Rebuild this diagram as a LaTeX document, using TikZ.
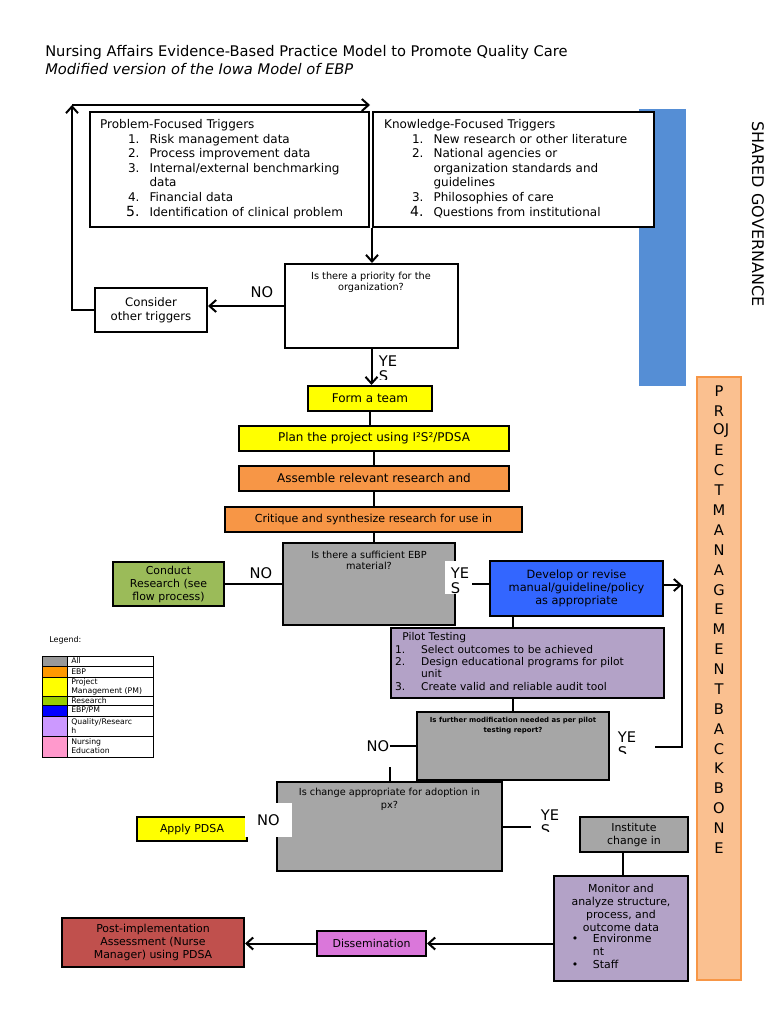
\documentclass[tikz,border=0pt]{standalone}
\usepackage{fontspec}
\setmainfont{DejaVu Sans}
\usetikzlibrary{arrows.meta}
\definecolor{boxgray}{HTML}{A6A6A6}
\definecolor{pmyellow}{HTML}{FFFF00}
\definecolor{ebporange}{HTML}{F79646}
\definecolor{resgreen}{HTML}{9BBB59}
\definecolor{devblue}{HTML}{3366FF}
\definecolor{qualpurple}{HTML}{B3A2C7}
\definecolor{dissmagenta}{HTML}{DA77DA}
\definecolor{postred}{HTML}{C0504D}
\definecolor{govblue}{HTML}{558ED5}
\definecolor{pmpeach}{HTML}{FAC090}
\definecolor{leggray}{HTML}{999999}
\definecolor{legorange}{HTML}{FF9900}
\definecolor{leggreen}{HTML}{99CC00}
\definecolor{legblue}{HTML}{0000FF}
\definecolor{leglilac}{HTML}{CC99FF}
\definecolor{legpink}{HTML}{FF99CC}
\tikzset{
	every box/.style={
		draw,
		line width=1.5pt,
		inner sep=1pt,
		align=center,
		font=\fontsize{8.2}{9.75}\selectfont
	},
	box size/.style 2 args={
		minimum width=#1*0.75pt,
		minimum height=#2*0.75pt
	},
	question/.style={
		align=center,
		inner sep=0pt,
		font=\fontsize{7.3}{8.3}\selectfont
	},
	answer/.style={
		align=left,
		inner sep=0pt,
		font=\fontsize{11}{11.25}\selectfont
	},
	connector/.style={
		line width=1.5pt
	},
	legend cell/.style={
		draw,
		line width=0.5pt
	},
	backbone letter/.style={
		inner sep=0pt,
		font=\fontsize{11}{12}\selectfont
	},
}

\begin{document}
\begin{tikzpicture}[x=0.75pt, y=-0.75pt, >={Straight Barb[length=5pt,width=9pt]}]

\useasboundingbox (0,0) rectangle (768,1024);

\node [fill=govblue, inner sep=0pt, box size={47}{277}] (governance) at (662.5,247.5) {};
\node [rotate=-90, inner sep=0pt, font=\fontsize{12}{13}\selectfont] (governance-label) at (758,214) {SHARED GOVERNANCE};
\node [fill=pmpeach, draw=ebporange, line width=1pt, inner sep=0pt, box size={44}{603}] (backbone) at (719,678.5) {};
\foreach \l [count=\i] in {P,R,{O\rlap{J}},E,C,T,M,A,N,A,G,E,M,E,N,T,B,A,C,K,B,O,N,E}
	\node [backbone letter] (backbone-\i) at (719,{391+(\i-1)*19.87}) {\l};

\node [anchor=west, inner sep=0pt, font=\fontsize{11}{12}\selectfont] (title) at (45,52) {Nursing Affairs Evidence-Based Practice Model to Promote Quality Care};
\node [anchor=west, inner sep=0pt, font=\fontsize{11}{12}\selectfont\itshape] (subtitle) at (45,69) {Modified version of the Iowa Model of EBP};

\node [every box, fill=white, box size={279}{115}, text width=194pt, inner xsep=7.5pt, align=left, font=\fontsize{9}{10.9}\selectfont] (problem) at (229.5,169.5) {%
	\begin{tabular}{@{\hspace{19.5pt}}r@{\hspace{7.5pt}}l@{}}
	\multicolumn{2}{@{}l@{}}{Problem-Focused Triggers}\\
	1. & Risk management data\\
	2. & Process improvement data\\
	3. & Internal/external benchmarking\\
	 & data\\
	4. & Financial data\\
	{\fontsize{10.5}{10.9}\selectfont 5.} & Identification of clinical problem
	\end{tabular}};
\node [every box, fill=white, box size={281}{115}, text width=194pt, inner xsep=8.25pt, align=left, font=\fontsize{9}{10.9}\selectfont] (knowledge) at (513.5,169.5) {%
	\begin{tabular}{@{\hspace{19.5pt}}r@{\hspace{7.5pt}}l@{}}
	\multicolumn{2}{@{}l@{}}{Knowledge-Focused Triggers}\\
	1. & New research or other literature\\
	2. & National agencies or\\
	 & organization standards and\\
	 & guidelines\\
	3. & Philosophies of care\\
	{\fontsize{10.5}{10.9}\selectfont 4.} & Questions from institutional
	\end{tabular}};

\node [every box, fill=white, box size={173}{84}] (priority) at (371.5,306) {};
\node [question] (priority-text) at (371,282.5) {Is there a priority for the\\organization?};
\node [every box, fill=white, box size={112}{44}, font=\fontsize{8.8}{10.5}\selectfont] (consider) at (151,310) {Consider\\other triggers};

\foreach \n/\c/\x/\y/\w/\f/\t in {
	form/pmyellow/370/398.5/124/9/{Form a team},
	plan/pmyellow/374/438/270/9/{Plan the project using I²S²/PDSA},
	assemble/ebporange/374/478.5/270/9/{Assemble relevant research and},
	critique/ebporange/373.5/519.5/297/8.3/{Critique and synthesize research for use in}}
	\node [every box, fill=\c, box size={\w}{25}, font=\fontsize{\f}{10}\selectfont] (\n) at (\x,\y) {\t};

\node [every box, fill=boxgray, box size={172}{82}] (ebp) at (369,584) {};
\node [question] (ebp-text) at (369,560.5) {Is there a sufficient EBP\\material?};
\node [every box, fill=resgreen, box size={111}{44}] (conduct) at (168.5,584) {Conduct\\Research (see\\flow process)};
\node [every box, fill=devblue, box size={173}{55}, font=\fontsize{8.5}{9.9}\selectfont] (develop) at (576.5,588.5) {Develop or revise\\manual/guideline/policy\\as appropriate};

\node [every box, fill=qualpurple, box size={273}{70}, text width=198.75pt, inner xsep=3pt, align=left, font=\fontsize{8}{9.3}\selectfont] (pilot) at (527.5,663) {%
	\begin{tabular}{@{}l@{\hspace{12pt}}l@{}}
	\multicolumn{2}{@{\hspace{5.5pt}}l@{}}{Pilot Testing}\\
	1. & Select outcomes to be achieved\\
	2. & Design educational programs for pilot\\
	 & unit\\
	3. & Create valid and reliable audit tool
	\end{tabular}};

\node [every box, fill=boxgray, box size={192}{68}] (further) at (513,746) {};
\node [question, font=\fontsize{5.2}{7}\selectfont\bfseries] (further-text) at (513,725.5) {Is further modification needed as per pilot\\testing report?};

\node [every box, fill=boxgray, box size={225}{89}] (change) at (389.5,826.5) {};
\node [question, font=\fontsize{7.3}{9.5}\selectfont] (change-text) at (389.5,799.5) {Is change appropriate for adoption in\\px?};
\node [every box, fill=pmyellow, box size={110}{24}] (apply) at (192,829) {Apply PDSA};
\node [every box, fill=boxgray, box size={108}{35}] (institute) at (634,834.5) {Institute\\change in};
\node [every box, fill=qualpurple, box size={134}{105}] (monitor) at (621,928.5) {Monitor and\\analyze structure,\\process, and\\outcome data\\
	\begin{tabular}{@{}l@{\hspace{11pt}}l@{\hspace{14pt}}}
	• & Environme\\
	 & nt\\
	• & Staff
	\end{tabular}};
\node [every box, fill=dissmagenta, box size={109}{25}] (dissemination) at (371.5,943.5) {Dissemination};
\node [every box, fill=postred, box size={182}{49}] (post) at (153,942.5) {Post-implementation\\Assessment (Nurse\\Manager) using PDSA};

\node [anchor=west, inner sep=0pt, font=\fontsize{6}{7}\selectfont] (legend-title) at (49,640) {Legend:};
\foreach \c/\t/\a/\b [count=\i] in {
	leggray/All/656/666,
	legorange/EBP/666/677,
	pmyellow/{Project\\Management (PM)}/677/696,
	leggreen/Research/696/705,
	legblue/{EBP/PM}/705/716,
	leglilac/{Quality/Researc\\h}/716/736,
	legpink/{Nursing\\Education}/736/757}
{
	\draw [legend cell, fill=\c] (42,\a) rectangle (67,\b);
	\draw [legend cell] (67,\a) rectangle (153,\b);
	\node [anchor=west, align=left, inner sep=0pt, font=\fontsize{5.8}{6.6}\selectfont] (legend-\i) at (71,{(\a+\b)/2}) {\t};
}

\node [answer] (priority-no) at (262,292) {NO};
\node [answer] (ebp-no) at (261,573) {NO};
\node [answer] (further-no) at (378,746) {NO};
\begin{scope}
	\clip (374,350) rectangle (404,379);
	\node [answer] (priority-yes) at (388,368.5) {YE\\S};
\end{scope}
\begin{scope}
	\clip (612,728) rectangle (642,753);
	\node [answer] (further-yes) at (627,744.5) {YE\\S};
\end{scope}
\begin{scope}
	\clip (536,805) rectangle (566,831);
	\node [answer] (change-yes) at (550,822.5) {YE\\S};
\end{scope}

\coordinate (loop-corner) at (72,105);
\coordinate (loop-end) at (370,105);
\draw [connector, ->] (consider.west) -| (loop-corner);
\draw [connector, ->] (loop-corner) -- (loop-end);
\draw [connector, ->] ([xshift=1.5pt]problem.south east) -- ([xshift=1.5pt]problem.south east |- priority.north);
\draw [connector, ->] (priority.west) -- (priority.west -| consider.east);
\draw [connector, ->] (priority.south) -- (priority.south |- form.north);
\foreach \a/\b in {form/plan, plan/assemble, assemble/critique}
	\draw [connector] (\a.south) -- (\a.south |- \b.north);
\draw [connector] (critique.south) -- (critique.south |- ebp.north);
\draw [connector] (conduct.east) -- (ebp.west);
\draw [connector] (ebp.east) -- (ebp.east -| develop.west);

\coordinate (loop-top) at (682,585);
\coordinate (loop-bottom) at (682,747);
\draw [connector, ->] (develop.east |- loop-top) -- (loop-top);
\draw [connector, shorten >=14pt] (loop-top) -- (loop-bottom) -- (loop-bottom -| further-yes.east);
\draw [connector] (develop.south -| further) -- (pilot.north -| further);
\draw [connector] (pilot.south -| further) -- (further.north);
\draw [connector] (further-no.east) -- (further.west);

\coordinate (change-stub) at (390,767);
\draw [connector] (change-stub) -- (change-stub |- change.north);
\draw [connector, shorten >=7.5pt] (change.east) -- (change.east -| change-yes.west);
\draw [connector] ([xshift=-8pt]institute.south) -- ([xshift=-8pt]institute.south |- monitor.north);
\draw [connector, ->] (monitor.west |- dissemination.east) -- (dissemination.east);
\draw [connector, ->] (dissemination.west) -- (dissemination.west -| post.east);

\node [fill=white, inner sep=0pt, box size={27}{33}] (ebp-yes) at (458.5,577.5) {};
\begin{scope}
	\clip (ebp-yes.south west) rectangle ([yshift=-2pt]ebp-yes.north east);
	\node [answer] (ebp-yes-text) at (460,580.5) {YE\\S};
\end{scope}
\node [answer, fill=white, box size={47}{34}] (change-no) at (268.5,820) {NO};

\end{tikzpicture}
\end{document}
